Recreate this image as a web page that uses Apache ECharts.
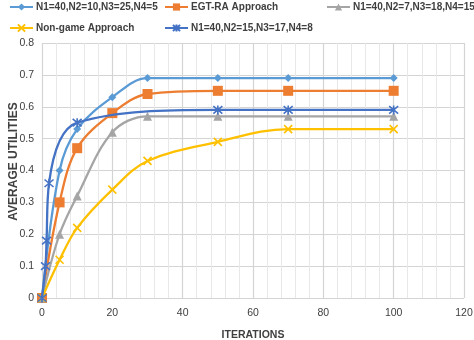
<!DOCTYPE html>
<html>
<head>
<meta charset="utf-8">
<script src="https://cdn.jsdelivr.net/npm/echarts@6/dist/echarts.min.js"></script>
<style>html,body{margin:0;padding:0;background:#fff}#c{width:474px;height:340px}</style>
</head>
<body>
<div id="c"></div>
<script>
// Average utilities per iteration count, one array per approach / configuration
const seriesNames = [
  'N1=40,N2=10,N3=25,N4=5',
  'EGT-RA Approach',
  'N1=40,N2=7,N3=18,N4=15',
  'Non-game Approach',
  'N1=40,N2=15,N3=17,N4=8'
];
const cfgA = [[0,0],[5,0.40],[10,0.53],[20,0.63],[30,0.69],[50,0.69],[70,0.69],[100,0.69]];
const egtRa = [[0,0],[5,0.30],[10,0.47],[20,0.58],[30,0.64],[50,0.65],[70,0.65],[100,0.65]];
const cfgB = [[0,0],[5,0.20],[10,0.32],[20,0.52],[30,0.57],[50,0.57],[70,0.57],[100,0.57]];
const nonGame = [[0,0],[5,0.12],[10,0.22],[20,0.34],[30,0.43],[50,0.49],[70,0.53],[100,0.53]];
const cfgC = [[0,0],[1,0.10],[1.3,0.18],[2,0.36],[10,0.55],[50,0.59],[70,0.59],[100,0.59]];
const xTicks = [0, 20, 40, 60, 80, 100, 120];
const yTicks = [0, 0.1, 0.2, 0.3, 0.4, 0.5, 0.6, 0.7, 0.8];

const colors = ['#5B9BD5', '#ED7D31', '#A5A5A5', '#FFC000', '#4472C4'];
const crossPath = 'path://M0,0L10,10M10,0L0,10';
const starPath = 'path://M0,0L10,10M10,0L0,10M5,-1L5,11';
const symbols = ['diamond', 'rect', 'triangle', crossPath, starPath];
const sizes = [8, 10, 9, 8, 9];
const datasets = [cfgA, egtRa, cfgB, nonGame, cfgC];

const fontFam = '"Liberation Sans", Arial, sans-serif';

// one legend block per entry so each sits where it belongs in the two-row key
const legendPos = [[9, 2], [164, 2], [326, 2], [9, 23], [164, 23]];
const legends = seriesNames.map((n, i) => ({
  data: [n],
  left: legendPos[i][0],
  top: legendPos[i][1],
  padding: 0,
  itemWidth: 23,
  itemHeight: 9,
  itemGap: 4,
  textStyle: { fontFamily: fontFam, fontSize: 10, fontWeight: 'bold', color: '#404040', padding: [0, 0, 0, -2] }
}));

const series = seriesNames.map((n, i) => {
  const isPath = symbols[i].startsWith('path');
  return {
    name: n,
    type: 'line',
    smooth: 0.35,
    data: datasets[i],
    symbol: symbols[i],
    symbolSize: sizes[i],
    showAllSymbol: true,
    lineStyle: { color: colors[i], width: 2.3 },
    itemStyle: isPath
      ? { color: colors[i], borderColor: colors[i], borderWidth: 1.6 }
      : { color: colors[i], borderColor: colors[i], borderWidth: 0 },
    z: 2 + i
  };
});

const chart = echarts.init(document.getElementById('c'), null, { renderer: 'canvas' });
chart.setOption({
  animation: false,
  backgroundColor: '#fff',
  color: colors,
  legend: legends,
  grid: { left: 42, right: 10, top: 43, bottom: 42, containLabel: false, outerBoundsMode: 'none' },
  xAxis: {
    type: 'value',
    min: xTicks[0],
    max: xTicks[xTicks.length - 1],
    interval: 20,
    name: 'ITERATIONS',
    nameLocation: 'middle',
    nameGap: 32,
    nameMoveOverlap: false,
    nameTextStyle: { fontFamily: fontFam, fontSize: 10.5, fontWeight: 'bold', color: '#404040' },
    axisLine: { show: false },
    axisTick: { show: false },
    axisLabel: { fontFamily: fontFam, fontSize: 10.5, color: '#404040', margin: 10 },
    splitLine: { show: true, lineStyle: { color: '#d4d4d4', width: 1.2 } },
    minorTick: { show: false, splitNumber: 5 },
    minorSplitLine: { show: true, lineStyle: { color: '#e8e8e8', width: 1 } }
  },
  yAxis: {
    type: 'value',
    min: yTicks[0],
    max: yTicks[yTicks.length - 1],
    interval: 0.1,
    name: 'AVERAGE UTILITIES',
    nameLocation: 'middle',
    nameGap: 22,
    nameMoveOverlap: false,
    nameTextStyle: { fontFamily: fontFam, fontSize: 12, fontWeight: 'bold', color: '#404040', padding: [0, 0, 0, 18] },
    axisLine: { show: false },
    axisTick: { show: false },
    axisLabel: { fontFamily: fontFam, fontSize: 10.5, color: '#404040', margin: 8,
      formatter: v => (Math.round(v * 10) / 10).toString() },
    splitLine: { show: true, lineStyle: { color: '#d4d4d4', width: 1.2 } }
  },
  series: series
});
</script>
</body>
</html>
